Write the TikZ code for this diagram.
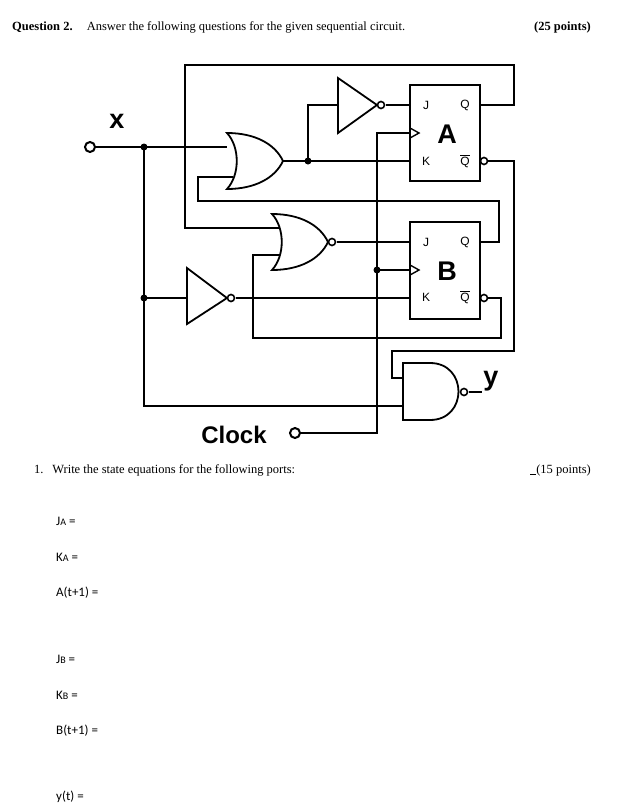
\documentclass[tikz,border=0pt]{standalone}
\usepackage{fontspec}
\setmainfont{Liberation Serif}
\newfontfamily\calfont{Carlito}
\newfontfamily\arsfont{Liberation Sans}
\newcommand{\smc}[1]{{\fontsize{10}{10}\selectfont #1}}
\begin{document}
\begin{tikzpicture}[x=1pt,y=-1pt,line width=2.4pt,
 wire/.style={line width=2.4pt},
 gate/.style={line width=1.8pt,fill=white},
 dot/.style={circle,fill,inner sep=0pt,minimum size=7pt},
 bub/.style={circle,draw,line width=1.6pt,fill=white,inner sep=0pt,minimum size=7pt},
 term/.style={circle,draw,line width=2pt,fill=white,inner sep=0pt,minimum size=10pt},
 pin/.style={font=\arsfont\fontsize{12}{12}\selectfont,inner sep=0pt},
 txt/.style={anchor=west,inner sep=0pt,font=\calfont\fontsize{13}{13}\selectfont}]
\useasboundingbox (0,0) rectangle (626,806);
% titles
\node[anchor=west,inner sep=0pt,font=\fontsize{12.5}{13}\selectfont] (t1) at (11,27) {\textbf{Question 2.}\hspace{0.8em} Answer the following questions for the given sequential circuit.};
\node[anchor=east,inner sep=0pt,font=\fontsize{12.5}{13}\selectfont\bfseries] (t2) at (592,27) {(25 points)};
% coordinates
\coordinate (xt) at (90,147); \coordinate (xj) at (144,147);
\coordinate (xj2) at (144,298);
% flip-flops
\node[draw,line width=2pt,minimum width=70pt,minimum height=96pt,inner sep=0pt] (FA) at (445,133) {};
\node[draw,line width=2pt,minimum width=70pt,minimum height=97pt,inner sep=0pt] (FB) at (445,270) {};
\node[font=\arsfont\bfseries\fontsize{27}{27}\selectfont] (LA) at (447,134) {A};
\node[font=\arsfont\bfseries\fontsize{27}{27}\selectfont] (LB) at (447,271) {B};
\node[pin] (ja) at (426,105) {J}; \node[pin] (qa) at (465,105) {Q};
\node[pin] (ka) at (426,161) {K}; \node[pin] (nqa) at (465,161) {$\overline{\mbox{Q}}$};
\node[pin] (jb) at (426,242) {J}; \node[pin] (qb) at (465,242) {Q};
\node[pin] (kb) at (426,297) {K}; \node[pin] (nqb) at (465,297) {$\overline{\mbox{Q}}$};
\draw[line width=1.4pt] (410,128)--(419,133)--(410,138);
\draw[line width=1.4pt] (410,265)--(419,270)--(410,275);
% wires
\draw[wire] (xt)--(227,147);
\draw[wire] (xj)--(xj2)--(187,298);
\draw[wire] (xj2)--(144,406)--(403,406);
% top loop Q_A
\draw[wire] (480,105)--(514,105)--(514,65)--(185,65)--(185,228)--(280,228);
% OR1 output
\draw[wire] (283,161)--(410,161);
\draw[wire] (308,161)--(308,105)--(338,105);
\draw[wire] (386,105)--(410,105);
% OR1 input 2 from Q_B
\draw[wire] (233,177)--(198,177)--(198,201)--(499,201)--(499,242)--(480,242);
% NOR
\draw[wire] (337,242)--(410,242);
\draw[wire] (280,255)--(253,255)--(253,338)--(501,338)--(501,298)--(488,298);
% inverter 2 to K_B
\draw[wire] (236,298)--(410,298);
% clock
\coordinate (ck) at (295,433);
\draw[wire] (ck)--(377,433)--(377,133)--(410,133);
\draw[wire] (377,270)--(410,270);
% Qbar A to NAND
\draw[wire] (488,161)--(514,161)--(514,351)--(392,351)--(392,378)--(403,378);
\draw[wire] (469,392)--(482,392);
% gates
\draw[gate] (227,133) .. controls (240,147) and (240,175) .. (227,189)
  .. controls (255,189) and (275,178) .. (283,161)
  .. controls (275,144) and (255,133) .. (227,133) -- cycle;
\draw[gate] (272,214) .. controls (285,228) and (285,256) .. (272,270)
  .. controls (300,270) and (320,259) .. (328,242)
  .. controls (320,225) and (300,214) .. (272,214) -- cycle;
\node[bub] (nb) at (332,242) {};
\draw[gate] (338,78)--(377,105)--(338,133)--cycle;
\node[bub] (ib1) at (381,105) {};
\draw[gate] (187,268)--(227,298)--(187,324)--cycle;
\node[bub] (ib2) at (231,298) {};
\draw[gate] (403,363)--(430,363) .. controls (468,363) and (468,420) .. (430,420)--(403,420)--cycle;
\node[bub] (nab) at (464,392) {};
\node[bub] (qab) at (484,161) {};
\node[bub] (qbb) at (484,298) {};
% dots and terminals
\node[dot] at (xj) {}; \node[dot] at (xj2) {}; \node[dot] at (308,161) {}; \node[dot] at (377,270) {};
\node[term] at (xt) {}; \node[term] at (ck) {};
\node[font=\arsfont\bfseries\fontsize{27}{27}\selectfont] (lx) at (117,121) {x};
\node[font=\arsfont\bfseries\fontsize{27}{27}\selectfont] (ly) at (491,381) {y};
\node[font=\arsfont\bfseries\fontsize{24}{24}\selectfont] (lc) at (234,435) {Clock};
% questions
\node[anchor=west,inner sep=0pt,font=\fontsize{12.5}{13}\selectfont] (q1) at (33,470) {1.\hspace{0.7em}Write the state equations for the following ports:};
\node[anchor=east,inner sep=0pt,font=\fontsize{12.5}{13}\selectfont] (q2) at (592,470) {\underline{\ \ }(15 points)};
\node[txt] at (55,521) {J\smc{A} =};
\node[txt] at (55,557) {K\smc{A} =};
\node[txt] at (55,593) {A(t+1) =};
\node[txt] at (55,659) {J\smc{B} =};
\node[txt] at (55,695) {K\smc{B} =};
\node[txt] at (55,731) {B(t+1) =};
\node[txt] at (55,797) {y(t) =};
\end{tikzpicture}
\end{document}
